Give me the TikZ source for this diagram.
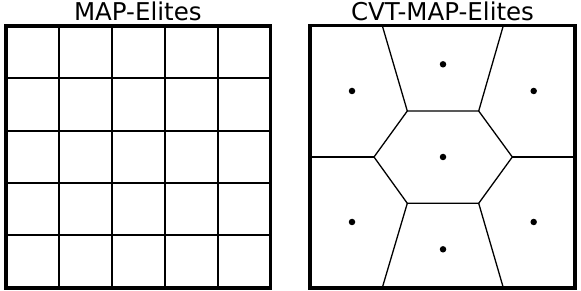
\documentclass[tikz,border=0pt]{standalone}
\usepackage{fontspec}
\setmainfont{DejaVu Sans}
\usepackage{tikz}
\usetikzlibrary{positioning}

\tikzset{
  frame/.style={line width=3.6pt},
  cell/.style={line width=2pt},
  edge/.style={line width=1.3pt},
  title/.style={anchor=base, font=\fontsize{24.5}{29}\selectfont},
  centroid/.style={circle, fill=black, inner sep=0pt, minimum size=6.5pt}
}

\begin{document}
\begin{tikzpicture}[x=1pt, y=-1pt]
\useasboundingbox (0,0) rectangle (581,291);
% titles
\node[title] (mapt) at (137.8,20.5) {MAP-Elites};
\node[title] (cvtt) at (442.5,20.5) {CVT-MAP-Elites};
% regular grid
\foreach \i in {1,...,4} {
  \draw[cell] ({5.7+\i*52.96},26) -- ({5.7+\i*52.96},287.7);
  \draw[cell] (5.7,{26+\i*52.34}) -- (270.5,{26+\i*52.34});
}
\draw[frame] (5.7,26) rectangle (270.5,287.7);
% voronoi vertices
\coordinate (tl) at (382.3,25.7);
\coordinate (tr) at (503.3,25.7);
\coordinate (bl) at (382.3,287.7);
\coordinate (br) at (503.3,287.7);
\coordinate (hnw) at (407.3,111);
\coordinate (hne) at (478.7,111);
\coordinate (hw) at (374,157);
\coordinate (he) at (512.3,157);
\coordinate (hsw) at (407.3,203.3);
\coordinate (hse) at (478.7,203.3);
\coordinate (lw) at (310,157);
\coordinate (le) at (575,157);
\draw[edge] (hnw) -- (hne) -- (he) -- (hse) -- (hsw) -- (hw) -- cycle;
\draw[edge] (tl) -- (hnw);
\draw[edge] (tr) -- (hne);
\draw[edge] (bl) -- (hsw);
\draw[edge] (br) -- (hse);
\draw[edge] (lw) -- (hw);
\draw[edge] (le) -- (he);
\draw[frame] (310,25.7) rectangle (575,287.7);
% centroids
\node[centroid] (cn) at (443,64.3) {};
\node[centroid] (cnw) at (352,91) {};
\node[centroid] (cne) at (533.7,91) {};
\node[centroid] (cc) at (443,157) {};
\node[centroid] (csw) at (352,222) {};
\node[centroid] (cse) at (533.7,222) {};
\node[centroid] (cs) at (443,249.3) {};
\end{tikzpicture}
\end{document}
